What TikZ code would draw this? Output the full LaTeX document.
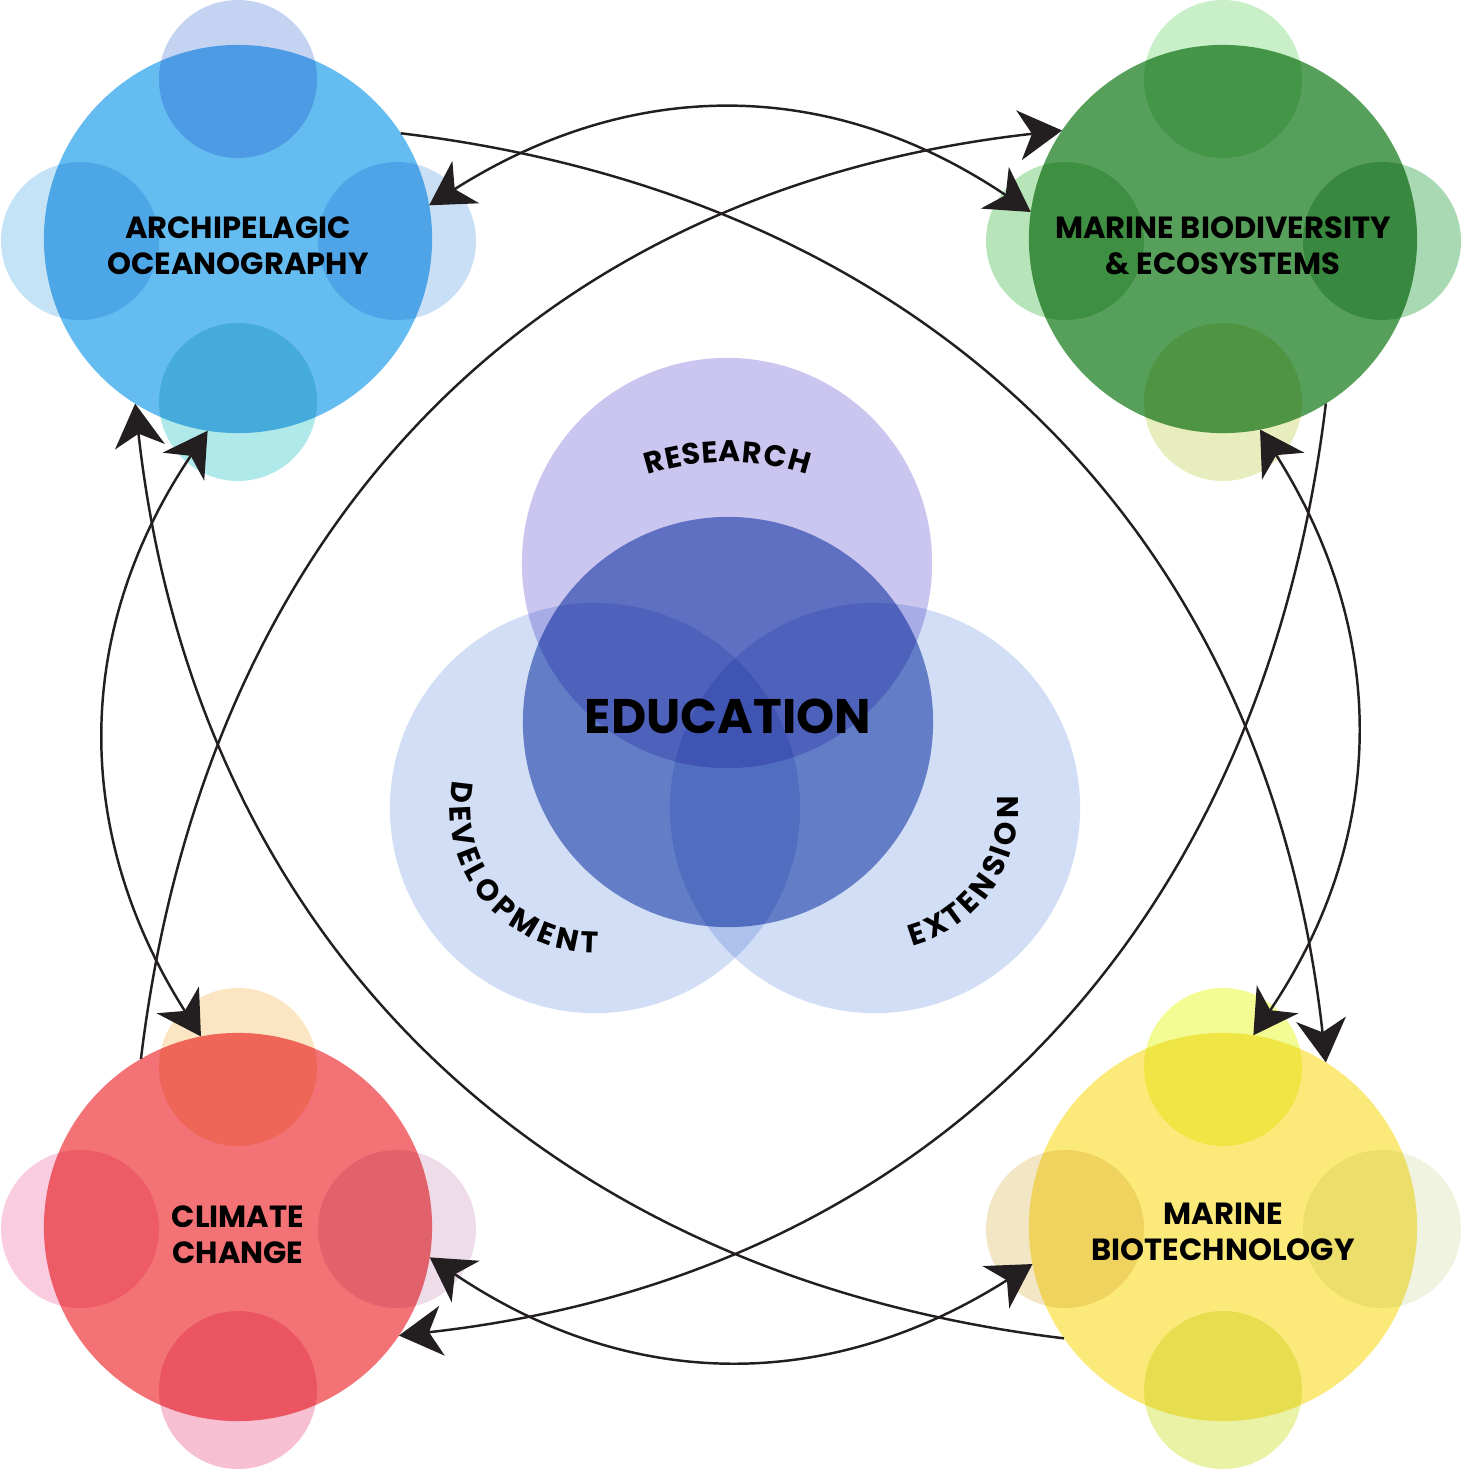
\documentclass[tikz,border=0pt]{standalone}
\usepackage{fontspec}
\setmainfont{Poppins}
\usetikzlibrary{arrows.meta,decorations.text}
\tikzset{>={Stealth[length=12.3pt,width=14.2pt,inset=3.7pt]}}

\definecolor{ink}{HTML}{231F20}
\definecolor{ao-big}{HTML}{64BCF0}
\definecolor{ao-top}{HTML}{C5D3F3}
\definecolor{ao-left}{HTML}{C5E3F6}
\definecolor{ao-right}{HTML}{C9DFF6}
\definecolor{ao-bottom}{HTML}{AFE9E9}
\definecolor{mb-big}{HTML}{57A05B}
\definecolor{mb-top}{HTML}{C8EFC7}
\definecolor{mb-left}{HTML}{B8E4BA}
\definecolor{mb-right}{HTML}{A8D9B3}
\definecolor{mb-bottom}{HTML}{E8EDBE}
\definecolor{cc-big}{HTML}{F37276}
\definecolor{cc-top}{HTML}{FBE5C2}
\definecolor{cc-left}{HTML}{F9CCE0}
\definecolor{cc-right}{HTML}{EEDDE9}
\definecolor{cc-bottom}{HTML}{F7BFD2}
\definecolor{bt-big}{HTML}{FBEA7A}
\definecolor{bt-top}{HTML}{F3FB93}
\definecolor{bt-left}{HTML}{F3E6C5}
\definecolor{bt-right}{HTML}{F0F3DF}
\definecolor{bt-bottom}{HTML}{EAF2A5}
\definecolor{research}{HTML}{CAC6F0}
\definecolor{devext}{HTML}{D2DEF5}
\definecolor{educ}{HTML}{7991D0}

\newcommand\hubfont{\fontsize{8.7}{10.24}\selectfont\bfseries}
\newcommand\curvefont{\fontsize{8.5}{10}\selectfont\bfseries}

\tikzstyle{hub}=[circle,inner sep=0pt,outer sep=0pt,minimum size=3.88cm]
\tikzstyle{venn}=[circle,inner sep=0pt,outer sep=0pt,minimum size=4.1cm]
\tikzstyle{hubtext}=[align=center,inner sep=0pt,font=\hubfont]
\tikzstyle{link}=[draw=ink,line width=0.7pt]
\tikzset{arclabel/.style 2 args={decorate,decoration={text effects along path,text align=center,text={#1},
                      text effects/.cd,text along path,characters={font=\curvefont},
                      character widths={inner xsep=#2}}}}

\begin{document}
\begin{tikzpicture}[x=0.01cm,y=-0.01cm]
  \useasboundingbox (0,0) rectangle (1462,1469);

  \begin{scope}[blend mode=multiply]
    % four hubs
    \node[hub,fill=ao-big] (archi) at (238,239) {};
    \node[hub,fill=mb-big] (biodiv) at (1223,239) {};
    \node[hub,fill=cc-big] (climate) at (238,1227) {};
    \node[hub,fill=bt-big] (biotech) at (1223,1227) {};
    \foreach \hub/\tone in {archi/ao,biodiv/mb,climate/cc,biotech/bt}{
      \fill[\tone-top] (\hub.center) ++(0,-160) circle (79);
      \fill[\tone-left] (\hub.center) ++(-158,2) circle (79);
      \fill[\tone-right] (\hub.center) ++(159,2) circle (79);
      \fill[\tone-bottom] (\hub.center) ++(0,163) circle (79);
    }
    % venn in the middle
    \node[venn,fill=devext] (dev) at (595,808) {};
    \node[venn,fill=devext] (ext) at (875,808) {};
    \node[venn,fill=research] (res) at (727,563) {};
    \node[venn,fill=educ] (edu) at (728,722) {};
  \end{scope}

  \node[hubtext] (archi-text) at (238,246) {ARCHIPELAGIC\\OCEANOGRAPHY};
  \node[hubtext] (biodiv-text) at (1223,246) {MARINE BIODIVERSITY\\\& ECOSYSTEMS};
  \node[hubtext] (climate-text) at (238,1235) {CLIMATE\\CHANGE};
  \node[hubtext] (biotech-text) at (1223,1232) {MARINE\\BIOTECHNOLOGY};
  \node[inner sep=0pt,font=\fontsize{13.8}{16}\selectfont\bfseries] (edu-text) at (728,716) {EDUCATION};

  \path[arclabel={RESEARCH}{-0.2pt}]
    (edu.center) ++(-130:260) arc[start angle=-130,end angle=-50,radius=260];
  \path[arclabel={DEVELOPMENT}{0.3pt}]
    (dev.center) ++(200:145) arc[start angle=200,end angle=80,radius=145];
  \path[arclabel={EXTENSION}{0.3pt}]
    (ext.center) ++(90:143) arc[start angle=90,end angle=-20,radius=143];

  % side arcs, both ways
  \draw[link,<->] (archi.10) .. controls +(202,-128) and +(-202,-136) .. (biodiv.172);
  \draw[link,<->] (biodiv.281) .. controls +(128,202) and +(136,-202) .. (biotech.81);
  \draw[link,<->] (biotech.191) .. controls +(-202,128) and +(202,136) .. (climate.351);
  \draw[link,<->] (climate.101) .. controls +(-128,-202) and +(-136,202) .. (archi.261);
  % long crossing curves
  \draw[link,->] (archi.33) .. controls +(530,64) and +(-59,-530) .. (biotech.58);
  \draw[link,->] (biodiv.302) .. controls +(-64,530) and +(530,-59) .. (climate.326);
  \draw[link,->] (biotech.215) .. controls +(-530,-64) and +(59,530) .. (archi.238);
  \draw[link,->] (climate.120) .. controls +(64,-530) and +(-530,59) .. (biodiv.146);
\end{tikzpicture}
\end{document}
